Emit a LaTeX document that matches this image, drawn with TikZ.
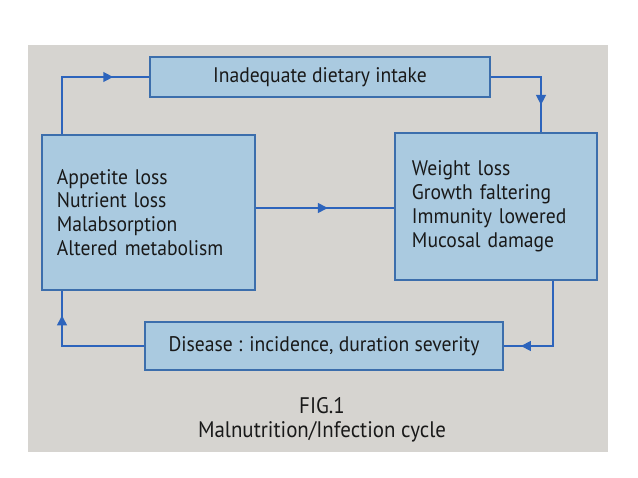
\documentclass[tikz,border=0pt]{standalone}
\usepackage{fontspec}
\setmainfont[FakeStretch=0.93]{PT Sans}
\usetikzlibrary{arrows.meta,positioning,decorations.markings}
\definecolor{pagegray}{RGB}{214,212,208}
\definecolor{boxblue}{RGB}{170,202,224}
\definecolor{edgeblue}{RGB}{60,110,172}
\definecolor{lineblue}{RGB}{45,100,188}

\begin{document}
\begin{tikzpicture}[x=0.025cm, y=-0.025cm,
  every node/.style={font=\fontsize{15}{17}\selectfont, text=black!90},
  box/.style={draw=edgeblue, fill=boxblue, line width=1pt},
  link/.style={draw=lineblue, line width=1.1pt},
  flow/.style={link, postaction={decorate},
    decoration={markings, mark=at position #1 with {\arrow{Triangle[length=7pt,width=7pt]}}}}]
  \useasboundingbox (0,0) rectangle (638,478);
  \fill[pagegray] (28,45) rectangle (608,452);
  % columns of the connectors
  \coordinate (lcol) at (62,0);
  \coordinate (rcol) at (541,0);
  \coordinate (rcolb) at (553,0);
  \coordinate (mid) at (0,208);
  % boxes
  \node[box, minimum width=8.5cm, minimum height=1cm] (intake) at (320,77) {Inadequate dietary intake};
  \node[box, align=left, text width=4.575cm, inner xsep=0.375cm, minimum height=3.875cm] (symptoms) at (148.5,212.5)
    {Appetite loss\\Nutrient loss\\Malabsorption\\Altered metabolism};
  \node[box, align=left, text width=4.2cm, inner xsep=0.425cm, minimum height=3.675cm] (effects) at (496,206.5)
    {Weight loss\\Growth faltering\\Immunity lowered\\Mucosal damage};
  \node[box, minimum width=8.95cm, minimum height=1.2cm] (disease) at (324,346) {Disease : incidence, duration severity};
  % caption
  \node[font=\fontsize{16}{18}\selectfont] (fig) at (322,406) {FIG.1};
  \node[font=\fontsize{16}{18}\selectfont] (caption) at (322,432) {Malnutrition/Infection cycle};
  % connectors
  \draw[flow=0.75] (symptoms.north -| lcol) |- (intake.west);
  \draw[flow=0.74] (intake.east) -| (rcol |- effects.north);
  \draw[flow=0.52] (symptoms.east |- mid) -- (effects.west |- mid);
  \draw[flow=0.85] (effects.south -| rcolb) |- (disease.east);
  \draw[flow=0.82] (disease.west) -| (lcol |- symptoms.south);
\end{tikzpicture}
\end{document}
